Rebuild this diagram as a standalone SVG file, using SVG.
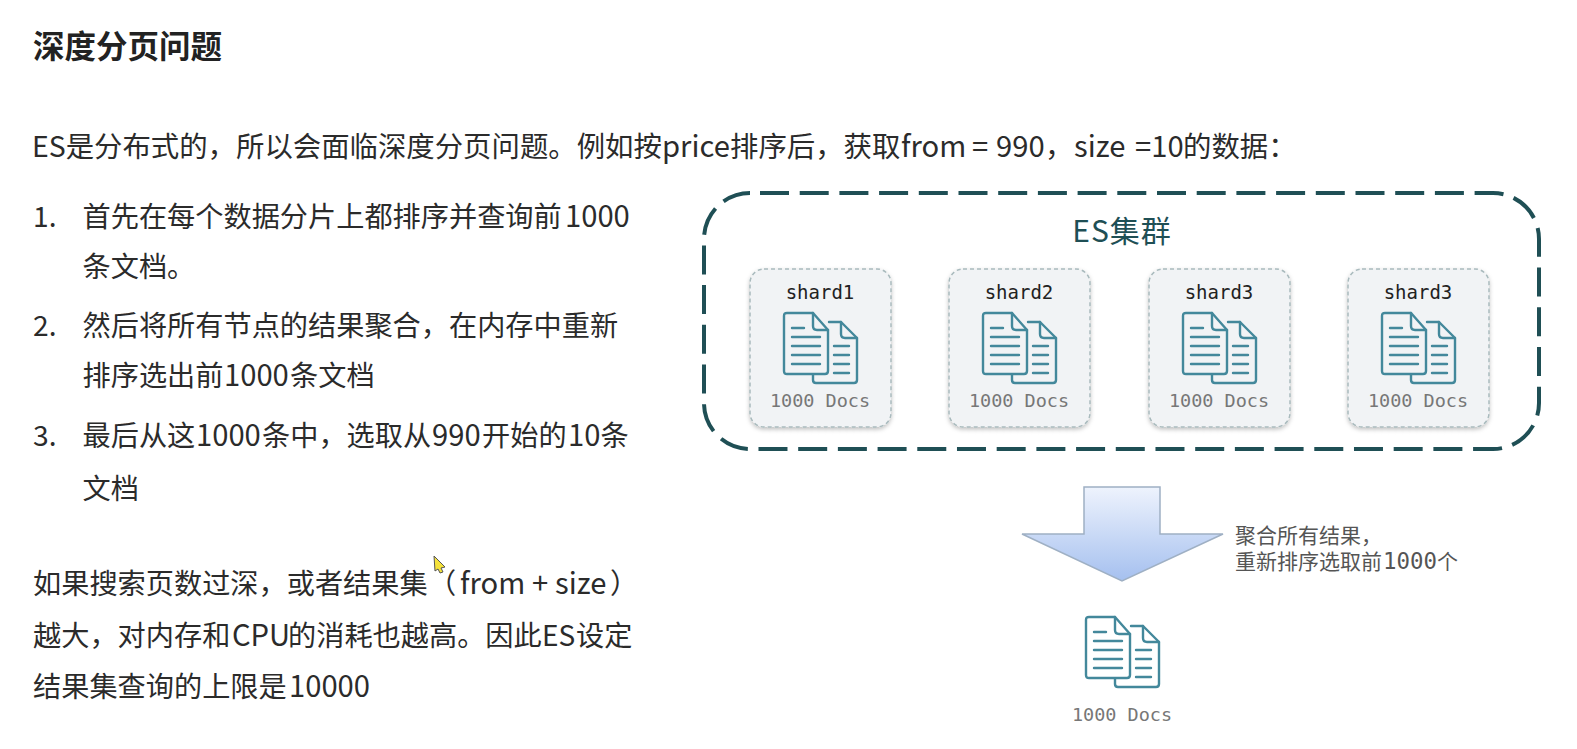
<svg xmlns="http://www.w3.org/2000/svg" xmlns:xlink="http://www.w3.org/1999/xlink" width="1577" height="749" viewBox="0 0 1577 749">
<style>
text{font-family:"Noto Sans CJK SC","Noto Sans",sans-serif}
.title{font-size:31.5px;font-weight:700;fill:#222}
.body{font-size:28.2px;fill:#2b2b2b}
.lat{font-size:29.2px}
.mono{font-family:"DejaVu Sans Mono","Noto Sans CJK SC",monospace}
.sh{font-size:19px;fill:#222;text-anchor:middle}
.dc{font-size:18.5px;fill:#777;text-anchor:middle}
.note{font-size:21px;fill:#555}
.card{fill:#f1f3f5;stroke:#a9babd;stroke-width:1.5;stroke-dasharray:4 3;filter:url(#sd)}
.ic{fill:none;stroke:#43889b;stroke-width:2.4;stroke-linejoin:round;stroke-linecap:round}
</style>
<defs>
<filter id="sd" x="-10%" y="-10%" width="120%" height="120%"><feDropShadow dx="0" dy="2" stdDeviation="2" flood-color="#000" flood-opacity=".25"/></filter>
<linearGradient id="ag" x1="0" y1="0" x2="0" y2="1"><stop offset="0" stop-color="#eef3fd"/><stop offset="1" stop-color="#a5c0ef"/></linearGradient>
<symbol id="doc" width="76" height="73" viewBox="-1 -1 76 73" overflow="visible">
<g class="ic">
<path d="M3 0H29L44 17V58Q44 61 41 61H3Q0 61 0 58V3Q0 0 3 0Z"/>
<path d="M29 0V13Q29 17 33 17H44"/>
<path d="M8 15H20M8 24H36M8 33H36M8 42H36M8 51H36"/>
<path d="M45 9H57L73 25V67Q73 70 70 70H32Q29 70 29 67V62"/>
<path d="M57 9V21Q57 25 61 25H73"/>
<path d="M50 33H65M50 42H65M50 51H65M50 60H65"/>
</g>
</symbol>
</defs>
<rect width="1577" height="749" fill="#fff"/>
<g id="text-left">
<text class="title" x="33" y="58">深度分页问题</text>
<text class="body" x="32" y="157" style="font-size:28.4px">ES是分布式的，所以会面临深度分页问题。例如按<tspan class="lat" x="662">price</tspan><tspan x="730">排序后，获取</tspan><tspan class="lat" x="901">from </tspan><tspan class="lat" x="972">= </tspan><tspan class="lat" x="996">990</tspan><tspan x="1045">，</tspan><tspan class="lat" x="1074">size </tspan><tspan class="lat" x="1135">=10</tspan><tspan x="1183">的数据：</tspan></text>
<text class="body" x="33" y="227">1.</text>
<text class="body" x="82.5" y="227">首先在每个数据分片上都排序并查询前<tspan class="lat" x="565">1000</tspan></text>
<text class="body" x="82.5" y="277">条文档。</text>
<text class="body" x="33" y="336">2.</text>
<text class="body" x="82.5" y="336">然后将所有节点的结果聚合，在内存中重新</text>
<text class="body" x="82.5" y="386">排序选出前<tspan class="lat" x="224">1000</tspan><tspan x="290">条文档</tspan></text>
<text class="body" x="33" y="446">3.</text>
<text class="body" x="82.5" y="446">最后从这<tspan class="lat" x="196">1000</tspan><tspan x="262">条中，选取从</tspan><tspan class="lat" x="432">990</tspan><tspan x="482">开始的</tspan><tspan class="lat" x="568">10</tspan><tspan x="600.5">条</tspan></text>
<text class="body" x="82.5" y="499">文档</text>
<text class="body" x="33" y="594">如果搜索页数过深，或者结果集<tspan x="428">（</tspan><tspan class="lat" x="460">from </tspan><tspan class="lat" x="532">+ </tspan><tspan class="lat" x="555">size</tspan><tspan x="610">）</tspan></text>
<text class="body" x="33" y="646">越大，对内存和<tspan class="lat" x="232">CPU</tspan><tspan x="288">的消耗也越高。因此</tspan><tspan class="lat" x="542" style="font-size:28px">ES</tspan><tspan x="576">设定</tspan></text>
<text class="body" x="33" y="697">结果集查询的上限是<tspan class="lat" x="289">10000</tspan></text>
</g>
<g id="cursor"><path d="M434 556L445 567L441 568L443 572L440 573L438 569L435 571Z" fill="#f5e23a" stroke="#555" stroke-width="1"/></g>
<g id="es-cluster">
<rect x="704" y="193" width="835" height="256" rx="46" fill="#fff" stroke="#1f4f55" stroke-width="4" stroke-dasharray="29 10.7" stroke-dashoffset="-10"/>
<text x="1122" y="242" font-size="30" fill="#1f4f55" text-anchor="middle" letter-spacing="1">ES集群</text>
</g>
<g id="shard1">
<rect class="card" x="750" y="269" width="141" height="158" rx="14"/>
<text class="mono sh" x="820" y="299">shard1</text>
<use href="#doc" x="783" y="312"/>
<text class="mono dc" x="820" y="407">1000 Docs</text>
</g>
<g id="shard2">
<rect class="card" x="949" y="269" width="141" height="158" rx="14"/>
<text class="mono sh" x="1019" y="299">shard2</text>
<use href="#doc" x="982" y="312"/>
<text class="mono dc" x="1019" y="407">1000 Docs</text>
</g>
<g id="shard3a">
<rect class="card" x="1149" y="269" width="141" height="158" rx="14"/>
<text class="mono sh" x="1219" y="299">shard3</text>
<use href="#doc" x="1182" y="312"/>
<text class="mono dc" x="1219" y="407">1000 Docs</text>
</g>
<g id="shard3b">
<rect class="card" x="1348" y="269" width="141" height="158" rx="14"/>
<text class="mono sh" x="1418" y="299">shard3</text>
<use href="#doc" x="1381" y="312"/>
<text class="mono dc" x="1418" y="407">1000 Docs</text>
</g>
<g id="connectors">
<path d="M1084 487H1160V534H1223L1122 581L1022 534H1084Z" fill="url(#ag)" stroke="#9fb0c4" stroke-width="1.5"/>
</g>
<g id="note">
<text class="mono note" x="1235" y="543">聚合所有结果，</text>
<text class="mono note" x="1235" y="569">重新排序选取前<tspan x="1383" style="font-size:22.4px">1000</tspan><tspan x="1437">个</tspan></text>
</g>
<g id="result">
<use href="#doc" x="1085" y="616"/>
<text class="mono dc" x="1122" y="721">1000 Docs</text>
</g>
</svg>
